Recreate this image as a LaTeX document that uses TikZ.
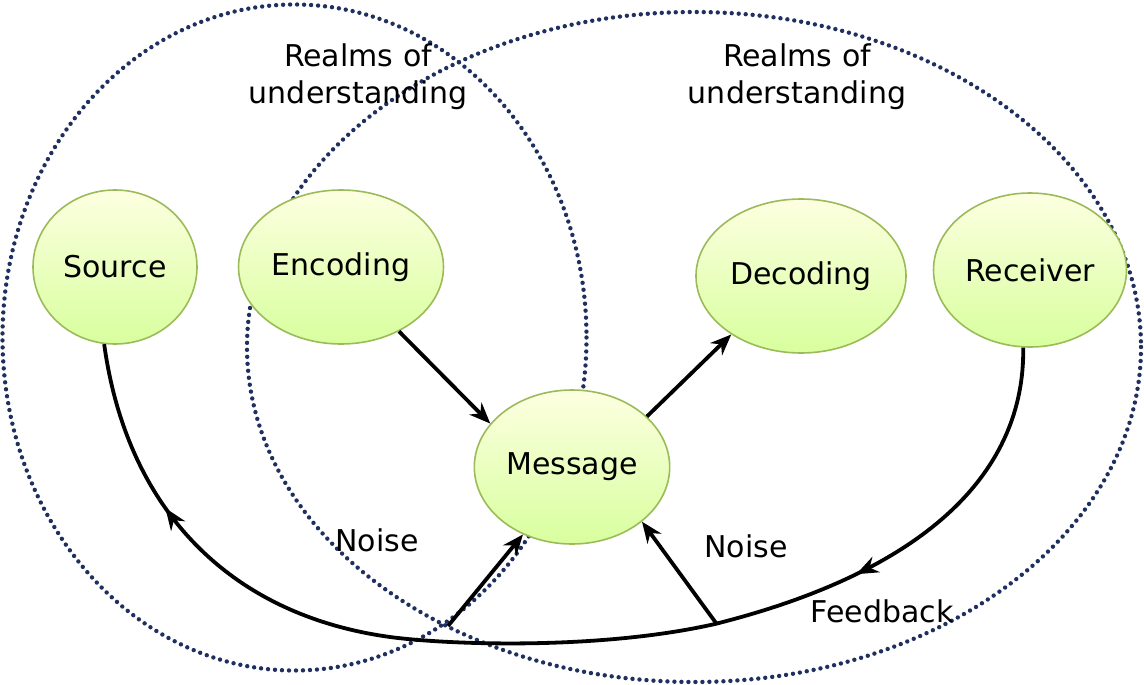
\documentclass[tikz,border=0pt]{standalone}
\usepackage{fontspec}
\setmainfont{DejaVu Sans}
\usetikzlibrary{arrows.meta,decorations.markings,shapes.geometric}
\definecolor{navy}{HTML}{1F2F5F}
\definecolor{bord}{HTML}{9BBB59}
\begin{document}
\begin{tikzpicture}[x=1pt,y=-1pt,
  realm/.style={draw=navy,line width=4.4pt,line cap=round,dash pattern=on 0pt off 7pt},
  bub/.style={ellipse,draw=bord,line width=1.6pt,top color=green!8!yellow!12,bottom color=green!40!yellow!38,
    minimum width=164pt,minimum height=154pt,font=\fontsize{30}{36}\selectfont},
  lab/.style={font=\fontsize{30}{37}\selectfont,align=center},
  arr/.style={line width=3.8pt,-{Stealth[length=21pt,width=17pt]}}]
\useasboundingbox (0,0) rectangle (1144,685);
\draw[realm] (294.5,337.5) ellipse [x radius=292, y radius=333];
\draw[realm] (694,347) ellipse [x radius=447, y radius=335];
\node[bub] (src) at (115,267) {Source};
\node[bub] (enc) at (341,267) {Encoding};
\node[bub,minimum width=168pt] (dec) at (801,276) {Decoding};
\node[bub,minimum width=168pt] (rec) at (1030,270) {Receiver};
\node[bub] (msg) at (572,467) {Message};
\node[lab] (r1) at (358,77) {Realms of\\understanding};
\node[lab] (r2) at (797,77) {Realms of\\understanding};
\node[lab] (n1) at (377,540) {Noise};
\node[lab] (n2) at (746,546) {Noise};
\node[lab] (fb) at (882,611) {Feedback};
\draw[arr] (enc.-48) -- (msg.152);
\draw[arr] (msg.34) -- (dec.-140);
\coordinate (a1) at (448,626);
\coordinate (a2) at (716,623);
\draw[arr] (a1) -- (msg.-126);
\draw[arr] (a2) -- (msg.-38);
\draw[line width=3.8pt,postaction={decorate},decoration={markings,
  mark=at position 0.245 with {\arrow{Stealth[length=22pt,width=17pt]}},
  mark=at position 0.855 with {\arrow{Stealth[length=22pt,width=17pt]}}}]
  (rec.-95) .. controls (1025,470) and (930,570) .. (715,624)
  .. controls (600,650) and (450,645) .. (390,637)
  .. controls (230,615) and (127,510) .. (src.-98);
\end{tikzpicture}
\end{document}
